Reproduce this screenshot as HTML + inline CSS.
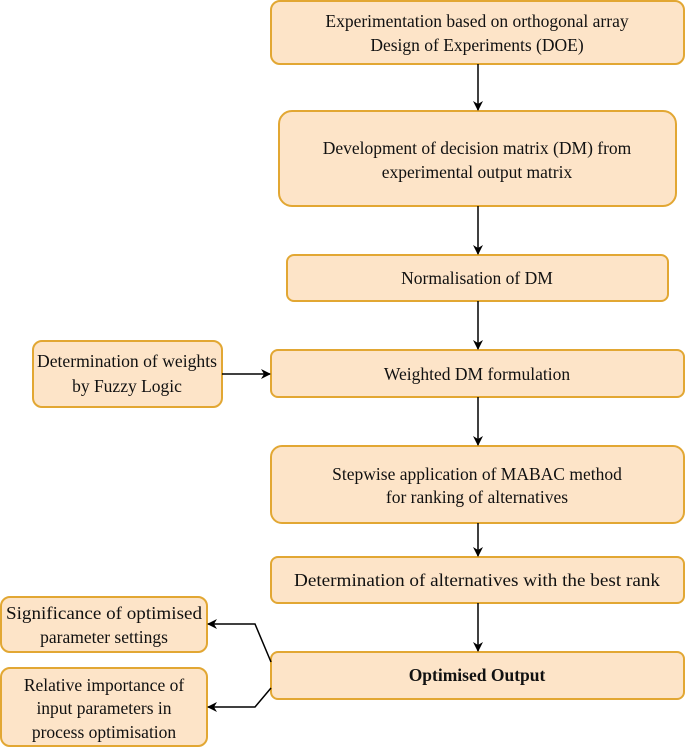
<!DOCTYPE html>
<html><head><style>html,body{margin:0;padding:0;background:#fff}svg text{font-family:"Liberation Serif","DejaVu Serif",serif;font-size:17.5px;fill:#111}</style></head>
<body>
<svg width="685" height="748" xmlns="http://www.w3.org/2000/svg">
<defs><marker id="a" markerWidth="10" markerHeight="10" refX="9" refY="5" orient="auto" markerUnits="userSpaceOnUse"><path d="M0,0 L10,5 L0,10 L3,5 z" fill="#000"/></marker></defs>
<g fill="#fde4c8" stroke="#e2a733" stroke-width="2">
<rect x="271" y="1" width="413" height="63" rx="9"/>
<rect x="279" y="111" width="397" height="95" rx="13"/>
<rect x="287" y="255" width="381" height="46" rx="7"/>
<rect x="271" y="350" width="413" height="47" rx="7"/>
<rect x="33" y="341" width="189" height="66" rx="9"/>
<rect x="271" y="446" width="413" height="77" rx="11"/>
<rect x="271" y="557" width="413" height="46" rx="7"/>
<rect x="271" y="652" width="413" height="47" rx="7"/>
<rect x="1" y="597" width="206" height="55" rx="9"/>
<rect x="1" y="668" width="206" height="78" rx="9"/>
</g>
<g stroke="#000" stroke-width="1.5" fill="none" marker-end="url(#a)">
<line x1="478" y1="64" x2="478" y2="110"/>
<line x1="478" y1="206" x2="478" y2="254"/>
<line x1="478" y1="301" x2="478" y2="349"/>
<line x1="478" y1="397" x2="478" y2="445"/>
<line x1="478" y1="523" x2="478" y2="556"/>
<line x1="478" y1="603" x2="478" y2="651"/>
<line x1="222" y1="374" x2="270" y2="374"/>
<polyline points="271,662 255,624 208,624"/>
<polyline points="271,688 255,707 208,707"/>
</g>
<g text-anchor="middle">
<text x="477" y="27">Experimentation based on orthogonal array</text>
<text x="477" y="51">Design of Experiments (DOE)</text>
<text x="477" y="154">Development of decision matrix (DM) from</text>
<text x="477" y="178">experimental output matrix</text>
<text x="477" y="284">Normalisation of  DM</text>
<text x="477" y="380">Weighted DM formulation</text>
<text x="127" y="367" textLength="180" lengthAdjust="spacingAndGlyphs">Determination of weights</text>
<text x="127" y="392">by Fuzzy Logic</text>
<text x="477" y="480">Stepwise application of MABAC method</text>
<text x="477" y="503">for ranking of alternatives</text>
<text x="477" y="586" textLength="366" lengthAdjust="spacingAndGlyphs">Determination of alternatives with the best rank</text>
<text x="477" y="681" font-weight="bold">Optimised Output</text>
<text x="104" y="619" textLength="196" lengthAdjust="spacingAndGlyphs">Significance of optimised</text>
<text x="104" y="643">parameter settings</text>
<text x="104" y="691">Relative importance of</text>
<text x="104" y="714">input parameters in</text>
<text x="104" y="738">process optimisation</text>
</g>
</svg>
</body></html>
